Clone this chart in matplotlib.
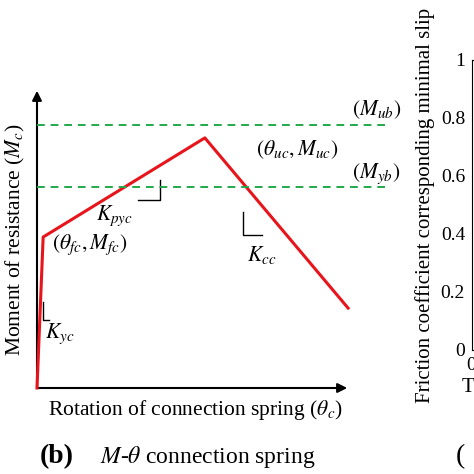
import matplotlib.pyplot as plt

plt.rcParams['font.family'] = ['Liberation Serif', 'DejaVu Serif']
plt.rcParams['mathtext.fontset'] = 'stix'

# Schematic M-theta curve (normalised)
theta = [0.0, 0.02, 0.545, 1.01]
moment = [0.0, 0.51, 0.845, 0.27]
m_ub = 0.89
m_yb = 0.68

# Right panel ticks
friction_ticks = [0, 0.2, 0.4, 0.6, 0.8, 1]
friction_labels = ['0', '0.2', '0.4', '0.6', '0.8', '1']

fig = plt.figure(figsize=(4.74, 4.74), dpi=100)
W = 474.0

# overlay in pixel coordinates for annotations
ov = fig.add_axes([0, 0, 1, 1])
ov.set_xlim(0, W)
ov.set_ylim(W, 0)
ov.axis('off')

ax = fig.add_axes([37 / W, (W - 388) / W, 308 / W, 296 / W])
ax.set_xlim(0, 1)
ax.set_ylim(0, 1)
ax.axis('off')
ax.plot(theta, moment, color='#e8141b', lw=2.2, clip_on=False)
for m in [m_ub, m_yb]:
    ax.plot([0, 1.13], [m, m], color='#22a84a', lw=1.4, ls=(0, (4, 3)), clip_on=False)

# axis arrows
ov.annotate('', xy=(37, 88), xytext=(37, 390),
            arrowprops=dict(arrowstyle='-|>', color='black', lw=1.5, mutation_scale=14))
ov.annotate('', xy=(350, 388), xytext=(35, 388),
            arrowprops=dict(arrowstyle='-|>', color='black', lw=1.5, mutation_scale=14))

# slope markers
ov.plot([138, 160, 160], [200, 200, 180], color='black', lw=1)
ov.plot([243, 243, 262], [212, 235, 235], color='black', lw=1)
ov.plot([43, 43, 49], [302, 320, 320], color='black', lw=1)

fs = 15.5
ov.text(352, 110, r'$(M_{ub})$', fontsize=fs, va='center')
ov.text(352, 174, r'$(M_{yb})$', fontsize=fs, va='center')
ov.text(256, 150, r'$(\theta_{uc}, M_{uc})$', fontsize=fs, va='center')
ov.text(52, 245, r'$(\theta_{fc}, M_{fc})$', fontsize=fs, va='center')
ov.text(96, 216, r'$K_{pyc}$', fontsize=fs, va='center')
ov.text(247, 255, r'$K_{cc}$', fontsize=fs, va='center')
ov.text(45, 334, r'$K_{yc}$', fontsize=fs, va='center')

ov.text(195, 410, r'Rotation of connection spring ($\theta_c$)', fontsize=fs,
        ha='center', va='center')
ov.text(15, 240, r'Moment of resistance ($M_c$)', fontsize=fs, rotation=90,
        ha='center', va='center')
ov.text(40, 457, '(b)', fontsize=20, fontweight='bold', va='center')
ov.text(100, 457, r'$M$-$\theta$ connection spring', fontsize=17, va='center')
ov.text(456, 457, '(', fontsize=20, va='center')

# right panel (cropped)
ax2 = fig.add_axes([472 / W, (W - 350) / W, 0.2, 290 / W])
ax2.set_xlim(0, 1)
ax2.set_ylim(0, 1)
ax2.set_yticks(friction_ticks)
ax2.set_yticklabels(friction_labels, fontsize=14)
ax2.set_xticks([])
ax2.tick_params(length=0, pad=5)
ax2.set_ylabel('Friction coefficient corresponding minimal slip', fontsize=15, labelpad=4)
ov.text(466, 366, '0', fontsize=14, va='center')
ov.text(462, 387, 'T', fontsize=15, va='center')

fig.savefig('out.png', dpi=100)
